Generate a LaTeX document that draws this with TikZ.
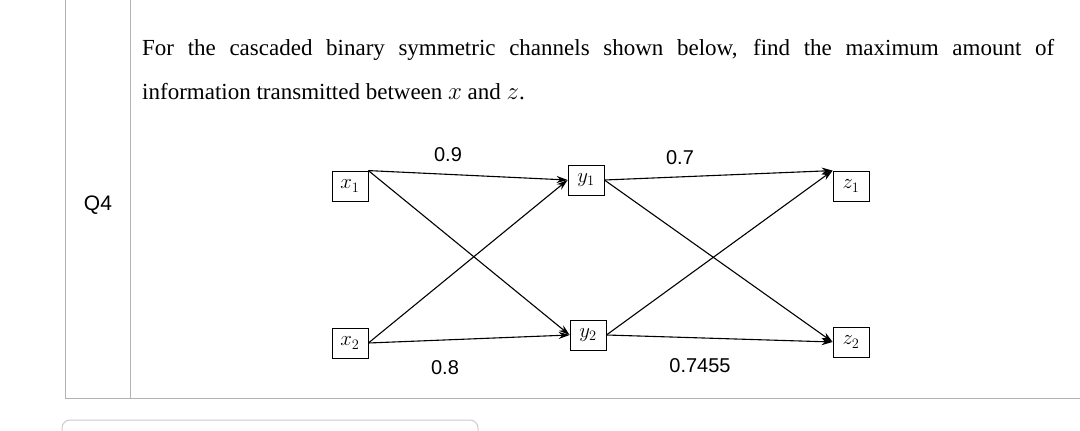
\documentclass[tikz,border=0pt]{standalone}
\usepackage{fontspec}
\setmainfont{Liberation Serif}
\newfontfamily\lab{Liberation Sans}
\usetikzlibrary{arrows.meta}
\begin{document}
\begin{tikzpicture}[x=1pt,y=-1pt,
  vbox/.style={draw,line width=0.8pt,minimum width=36pt,minimum height=30pt,inner sep=0pt,font=\fontsize{22}{22}\selectfont},
  arr/.style={-{Stealth[length=11pt,width=7pt]},line width=1.1pt},
  lbl/.style={font=\lab\fontsize{20}{20}\selectfont},
  rule/.style={draw=gray!60,line width=1pt}]
\useasboundingbox (0,0) rectangle (1080,431);
\fill[white] (0,0) rectangle (1080,431);
\draw[rule] (65,0) -- (65,398);
\draw[rule] (130,0) -- (130,398);
\draw[rule] (65,398) -- (1080,398);
\draw[draw=gray!40,line width=1pt,rounded corners=8pt] (62,431) -- (62,420) -- (478,420) -- (478,431);
\node[font=\lab\fontsize{21}{21}\selectfont] (q) at (98,205) {Q4};
\node[anchor=west,inner sep=0pt,font=\fontsize{23}{23}\selectfont] (t1) at (142,50) {\makebox[912pt][s]{For the cascaded binary symmetric channels shown below, find the maximum amount of}};
\node[anchor=west,inner sep=0pt,font=\fontsize{23}{23}\selectfont] (t2) at (142,92) {information transmitted between $x$ and $z$.};
\node[vbox] (x1) at (350,186) {$x_1$};
\node[vbox] (x2) at (350,343) {$x_2$};
\node[vbox] (y1) at (586,180) {$y_1$};
\node[vbox] (y2) at (588,335) {$y_2$};
\node[vbox] (z1) at (851,186) {$z_1$};
\node[vbox] (z2) at (851,342) {$z_2$};
\draw[arr] (x1.north east) -- (y1.west);
\draw[arr] (x1.north east) -- (y2.west);
\draw[arr] (x2.east) -- (y1.west);
\draw[arr] (x2.east) -- (y2.west);
\draw[arr] (y1.east) -- (z1.north west);
\draw[arr] (y1.east) -- (z2.west);
\draw[arr] (y2.east) -- (z1.north west);
\draw[arr] (y2.east) -- (z2.west);
\node[lbl] (l1) at (448,155) {0.9};
\node[lbl] (l2) at (680,158) {0.7};
\node[lbl] (l3) at (445,368) {0.8};
\node[lbl] (l4) at (700,366) {0.7455};
\end{tikzpicture}
\end{document}
